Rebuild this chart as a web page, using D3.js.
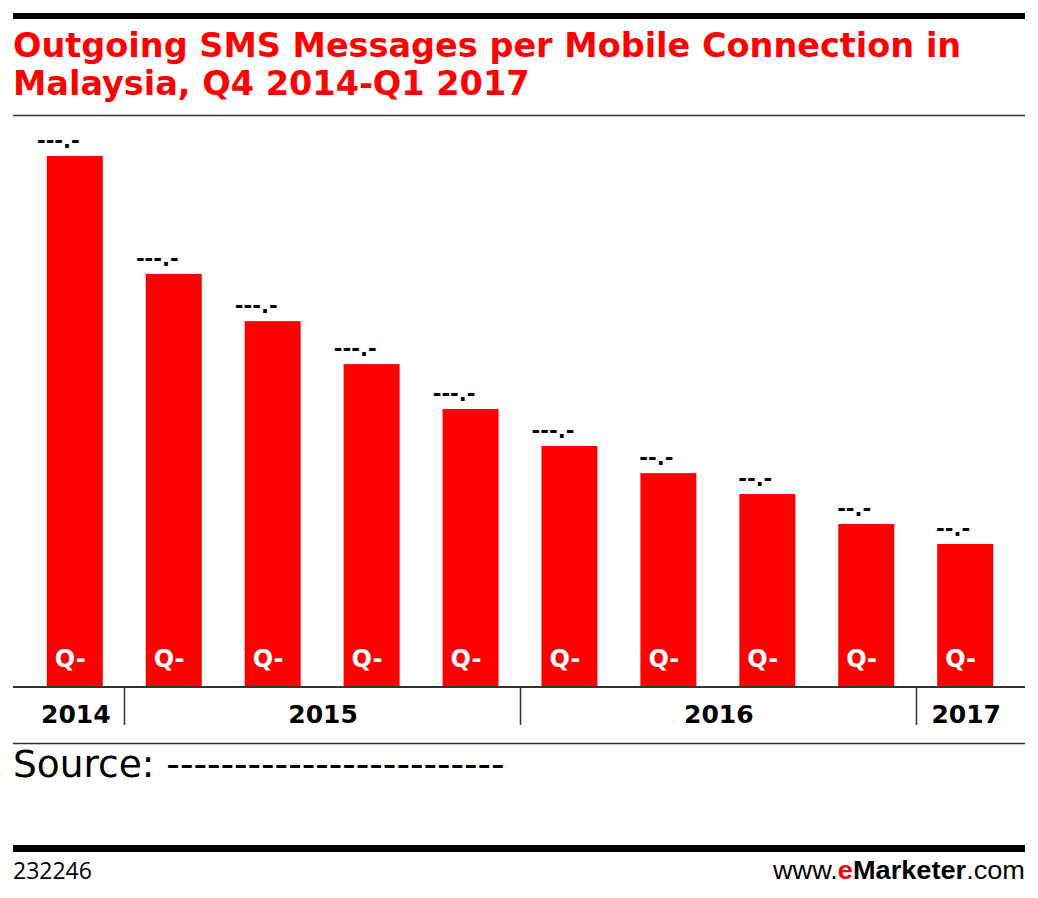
<!DOCTYPE html>
<html>
<head>
<meta charset="utf-8">
<script src="https://cdnjs.cloudflare.com/ajax/libs/d3/7.8.5/d3.min.js"></script>
<style>
  html, body { margin: 0; padding: 0; background: #fff; }
  svg { display: block; }
</style>
</head>
<body>
<div id="chart"></div>
<script>
// data
const quarters = ["Q4 2014", "Q1 2015", "Q2 2015", "Q3 2015", "Q4 2015",
                  "Q1 2016", "Q2 2016", "Q3 2016", "Q4 2016", "Q1 2017"];
const years = ["2014", "2015", "2016", "2017"];
const values = [230.9, 179.6, 159.1, 140.4, 120.9, 104.8, 93.0, 83.9, 70.9, 62.2];
const valueLabels = ["---.-", "---.-", "---.-", "---.-", "---.-", "---.-", "--.-", "--.-", "--.-", "--.-"];
const quarterLabels = ["Q-", "Q-", "Q-", "Q-", "Q-", "Q-", "Q-", "Q-", "Q-", "Q-"];

const W = 1038, H = 898;
const red = '#ff0000';
const baseY = 687;

const svg = d3.select('#chart').append('svg')
  .attr('width', W)
  .attr('height', H);

// top rule + title
svg.append('rect').attr('x', 13).attr('y', 13).attr('width', 1012).attr('height', 6).attr('fill', '#000');

const title = svg.append('text')
  .attr('font-family', '"DejaVu Sans", sans-serif')
  .attr('font-weight', 700)
  .attr('font-size', 33.5)
  .attr('fill', red);
title.append('tspan').attr('x', 13).attr('y', 57).text('Outgoing SMS Messages per Mobile Connection in');
title.append('tspan').attr('x', 13).attr('y', 95).text('Malaysia, Q4 2014-Q1 2017');

svg.append('line').attr('x1', 13).attr('x2', 1025).attr('y1', 115.5).attr('y2', 115.5)
  .attr('stroke', '#333').attr('stroke-width', 1.5);

// scales
const x = d3.scaleBand()
  .domain(quarters)
  .range([27, 1013])
  .paddingInner(0.434)
  .paddingOuter(0.2);

const y = d3.scaleLinear()
  .domain([0, 230.9])
  .range([baseY, 156]);

const rows = quarters.map((q, i) => ({
  q, value: values[i], label: valueLabels[i], ql: quarterLabels[i], year: q.split(' ')[1]
}));

// bars
svg.selectAll('.bar')
  .data(rows)
  .enter().append('rect')
  .attr('class', 'bar')
  .attr('x', d => x(d.q))
  .attr('y', d => y(d.value))
  .attr('width', x.bandwidth())
  .attr('height', d => baseY - y(d.value))
  .attr('fill', red);

// value labels
svg.selectAll('.vlabel')
  .data(rows)
  .enter().append('text')
  .attr('class', 'vlabel')
  .attr('x', d => x(d.q) + x.bandwidth() / 2 + 5)
  .attr('y', d => y(d.value) - 8)
  .attr('text-anchor', 'end')
  .attr('font-family', '"DejaVu Sans", sans-serif')
  .attr('font-weight', 700)
  .attr('font-size', 21)
  .attr('fill', '#000')
  .text(d => d.label);

// quarter labels inside bars
svg.selectAll('.qlabel')
  .data(rows)
  .enter().append('text')
  .attr('class', 'qlabel')
  .attr('x', d => x(d.q) + x.bandwidth() / 2 - 20)
  .attr('y', 667)
  .attr('font-family', '"DejaVu Sans", sans-serif')
  .attr('font-weight', 700)
  .attr('font-size', 24)
  .attr('fill', '#fff')
  .text(d => d.ql);

// axis line
svg.append('line').attr('x1', 13).attr('x2', 1025).attr('y1', baseY).attr('y2', baseY)
  .attr('stroke', '#333').attr('stroke-width', 2);

// year groups
const gap = x.step() - x.bandwidth();
years.forEach((yr, i) => {
  const grp = rows.filter(d => d.year === yr);
  const cx = d3.mean(grp, d => x(d.q) + x.bandwidth() / 2);
  svg.append('text')
    .attr('x', cx + 1)
    .attr('y', 723)
    .attr('text-anchor', 'middle')
    .attr('font-family', '"DejaVu Sans", sans-serif')
    .attr('font-weight', 700)
    .attr('font-size', 25)
    .attr('fill', '#000')
    .text(yr);
  if (i > 0) {
    const sx = Math.round(x(grp[0].q) - gap / 2) + 0.5;
    svg.append('line').attr('x1', sx).attr('x2', sx).attr('y1', baseY).attr('y2', 725)
      .attr('stroke', '#333').attr('stroke-width', 1.5);
  }
});

// source
svg.append('line').attr('x1', 13).attr('x2', 1025).attr('y1', 743.5).attr('y2', 743.5)
  .attr('stroke', '#333').attr('stroke-width', 1.5);
svg.append('text')
  .attr('x', 13).attr('y', 777)
  .attr('font-family', '"DejaVu Sans", sans-serif')
  .attr('font-size', 37.5)
  .attr('fill', '#000')
  .text('Source: -------------------------');

// footer
svg.append('rect').attr('x', 13).attr('y', 845).attr('width', 1012).attr('height', 7).attr('fill', '#000');
svg.append('text')
  .attr('x', 13).attr('y', 879)
  .attr('font-family', '"Open Sans", sans-serif')
  .attr('font-size', 23)
  .attr('fill', '#000')
  .text('232246');
const brand = svg.append('text')
  .attr('x', 1025).attr('y', 879)
  .attr('text-anchor', 'end')
  .attr('font-family', '"Liberation Sans", Arial, sans-serif')
  .attr('font-size', 25)
  .attr('textLength', 252)
  .attr('lengthAdjust', 'spacingAndGlyphs')
  .attr('fill', '#000');
brand.append('tspan').text('www.');
brand.append('tspan').attr('font-weight', 700).attr('fill', red).text('e');
brand.append('tspan').attr('font-weight', 700).text('Marketer');
brand.append('tspan').text('.com');
</script>
</body>
</html>
